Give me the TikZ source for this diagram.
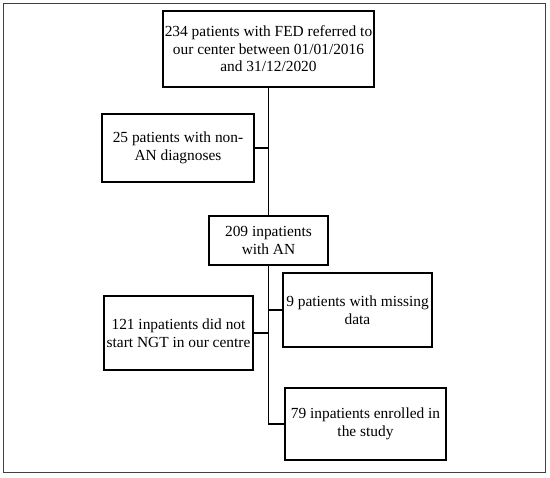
\documentclass[tikz,border=0pt]{standalone}
\usepackage{fontspec}
\setmainfont{Liberation Serif}
\begin{document}
\begin{tikzpicture}[x=1pt,y=-1pt,
  box/.style={draw=black,line width=1.8pt,align=center,inner sep=0.5pt,font=\fontsize{15.4}{17.5}\selectfont},
  link/.style={draw=black,line width=1.8pt}]
\useasboundingbox (0,0) rectangle (550,478);
\draw[line width=1pt,black!75] (3,4) rectangle (545,473);
\node[box,minimum width=211pt,minimum height=76pt] (top) at (268.5,49) {234 patients with FED referred to\\our center between 01/01/2016\\and 31/12/2020};
\node[box,minimum width=152pt,minimum height=68pt] (n25) at (178,148) {25 patients with non-\\AN diagnoses};
\node[box,minimum width=119pt,minimum height=49pt] (n209) at (268.5,240.5) {209 inpatients\\with AN};
\node[box,minimum width=149pt,minimum height=74pt] (n9) at (357.5,310) {9 patients with missing\\data};
\node[box,minimum width=149pt,minimum height=74pt] (n121) at (178.5,333) {121 inpatients did not\\start NGT in our centre};
\node[box,minimum width=161pt,minimum height=72pt] (n79) at (365.5,424) {79 inpatients enrolled in\\the study};
\coordinate (j1) at (top.south |- n25.east);
\coordinate (j9) at (n209.south |- n9.west);
\coordinate (j121) at (n209.south |- n121.east);
\coordinate (j79) at (n209.south |- n79.west);
\draw[link] (top.south) -- (n209.north);
\draw[link] (j1) -- (n25.east);
\draw[link] (n209.south) -- (j79) -- (n79.west);
\draw[link] (j9) -- (n9.west);
\draw[link] (j121) -- (n121.east);
\end{tikzpicture}
\end{document}
